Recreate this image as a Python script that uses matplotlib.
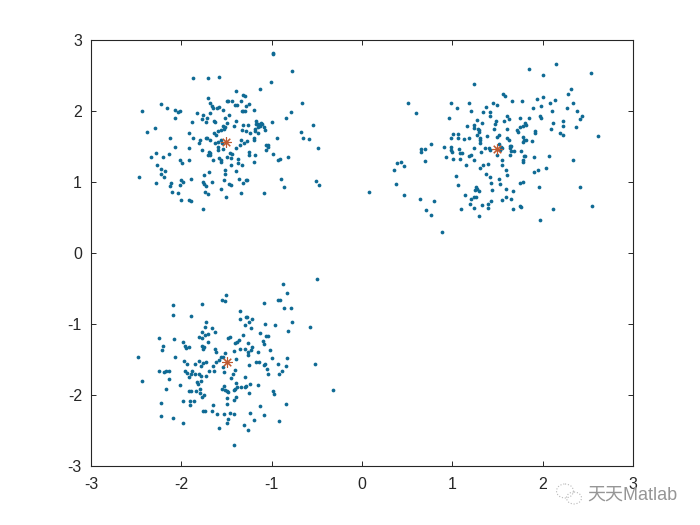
from matplotlib import pyplot as plt
from matplotlib.patches import Ellipse

plt.rcParams['font.family'] = ['Liberation Sans', 'Noto Sans CJK SC', 'DejaVu Sans']

x1 = [-0.99, -0.99, -0.77, -1.01, -1.13, -1.87, -1.70, -1.58, -1.40, -1.32, -1.30, -1.70, -1.50, -1.48, -1.44, -1.34,
      -1.68, -1.25, -1.41, -1.38, -1.66, -1.65, -1.60, -1.58, -1.54, -2.23, -2.44, -2.16, -2.07, -2.04, -2.02, -1.83,
      -1.76, -1.68, -1.72, -1.77, -1.73, -1.88, -2.07, -1.47, -1.52, -1.39, -1.49, -1.42, -1.64, -1.63, -1.33, -1.32,
      -1.29, -1.28, -1.20, -0.66, -0.79, -0.84, -1.00, -1.17, -1.17, -1.15, -1.12, -1.11, -1.13, -1.15, -1.08, -1.07,
      -1.18, -1.18, -1.15, -0.54, -0.68, -0.65, -0.59, -0.49, -0.94, -1.06, -1.04, -1.06, -1.04, -0.99, -0.91, -0.93,
      -0.82, -2.29, -2.38, -2.13, -1.92, -1.87, -1.79, -1.80, -1.73, -1.72, -1.68, -1.64, -1.62, -1.59, -1.56, -1.54,
      -1.52, -1.53, -1.32, -1.26, -1.33, -1.28, -1.24, -1.20, -1.20, -1.34, -1.31, -1.27, -1.35, -1.40, -1.63, -1.59,
      -1.56, -1.55, -1.59, -1.59, -1.54, -1.77, -1.92, -2.07, -2.28, -2.34, -2.20, -2.14, -1.92, -2.01, -1.99, -1.69,
      -1.70, -1.68, -1.68, -1.58, -1.56, -1.56, -1.50, -1.45, -1.46, -1.44, -1.65, -1.37, -1.37, -1.33, -1.45, -1.25,
      -1.25, -1.18, -1.20, -2.27, -2.22, -2.18, -2.22, -2.19, -2.47, -2.28, -2.11, -2.12, -2.00, -1.98, -2.02, -1.89,
      -1.75, -1.69, -1.52, -1.52, -1.53, -1.40, -1.36, -1.28, -1.27, -1.32, -1.76, -1.75, -1.73, -1.66, -1.47, -1.45,
      -1.56, -2.10, -2.04, -1.74, -1.70, -1.34, -1.09, -1.51, -2.00, -1.91, -1.89, -1.76, -0.90, -0.86, -0.51, -0.48]
y1 = [2.81, 2.79, 2.55, 2.40, 2.31, 2.46, 2.46, 2.47, 2.28, 2.22, 2.21, 2.17, 2.14, 2.13, 2.13, 2.13,
      2.11, 2.09, 2.08, 2.08, 2.06, 2.04, 2.04, 2.05, 2.01, 2.09, 2.00, 2.03, 2.01, 1.98, 1.99, 1.96,
      1.94, 1.97, 1.90, 1.88, 1.84, 1.84, 1.89, 1.94, 1.90, 1.85, 1.83, 1.79, 1.85, 1.84, 2.00, 2.00,
      1.99, 2.07, 2.01, 2.10, 1.98, 1.89, 1.84, 1.86, 1.81, 1.81, 1.82, 1.81, 1.78, 1.77, 1.77, 1.72,
      1.74, 1.71, 1.69, 1.80, 1.70, 1.62, 1.60, 1.47, 1.61, 1.51, 1.49, 1.44, 1.51, 1.39, 1.32, 1.30,
      1.35, 1.76, 1.70, 1.62, 1.68, 1.62, 1.59, 1.54, 1.62, 1.61, 1.59, 1.68, 1.65, 1.71, 1.72, 1.78,
      1.77, 1.74, 1.80, 1.80, 1.72, 1.71, 1.69, 1.62, 1.59, 1.58, 1.54, 1.57, 1.51, 1.47, 1.54, 1.56,
      1.59, 1.54, 1.49, 1.44, 1.46, 1.45, 1.47, 1.49, 1.40, 1.34, 1.35, 1.39, 1.31, 1.30, 1.26, 1.42,
      1.38, 1.40, 1.38, 1.33, 1.30, 1.27, 1.34, 1.33, 1.40, 1.39, 1.30, 1.32, 1.26, 1.23, 1.23, 1.42,
      1.38, 1.37, 1.28, 1.23, 1.18, 1.15, 1.11, 1.07, 1.06, 0.98, 0.98, 0.94, 1.03, 0.99, 0.96, 1.04,
      1.10, 1.14, 1.16, 1.11, 1.03, 1.15, 1.04, 1.03, 1.03, 0.98, 0.99, 0.97, 0.94, 1.00, 0.97, 0.96,
      0.90, 0.86, 0.84, 0.85, 0.83, 0.84, 0.84, 0.78, 0.74, 0.74, 0.73, 0.62, 1.04, 0.92, 1.01, 0.96]

x2 = [1.85, 2.15, 2.00, 2.54, 1.24, 1.56, 1.58, 2.31, 2.28, 2.00, 1.94, 2.14, 2.08, 1.66, 1.77, 2.34,
      0.51, 0.99, 1.19, 1.45, 1.49, 1.37, 1.05, 1.21, 1.34, 1.42, 1.42, 1.89, 1.98, 2.10, 2.27, 2.38,
      0.60, 0.96, 1.61, 1.63, 1.75, 1.85, 1.97, 1.98, 2.43, 2.41, 2.23, 2.11, 2.22, 2.37, 2.09, 2.19,
      2.22, 2.61, 1.27, 1.33, 1.16, 1.24, 1.24, 1.28, 1.30, 1.29, 1.48, 1.47, 1.57, 1.46, 1.61, 1.72,
      1.73, 1.75, 1.78, 1.80, 1.82, 1.92, 1.91, 1.01, 1.06, 0.99, 1.06, 1.13, 1.18, 1.27, 1.31, 1.31,
      1.31, 1.38, 1.49, 1.52, 1.61, 1.63, 1.78, 1.79, 1.78, 1.81, 1.88, 0.76, 0.70, 0.65, 0.65, 0.91,
      0.99, 0.99, 1.00, 1.07, 1.08, 1.11, 1.24, 1.32, 1.36, 1.41, 1.42, 1.52, 1.54, 1.55, 1.53, 1.64,
      1.65, 1.64, 1.65, 1.68, 1.76, 1.64, 1.49, 0.93, 1.01, 1.09, 1.18, 1.21, 1.24, 1.55, 1.79, 1.80,
      1.78, 1.78, 1.90, 2.07, 2.34, 0.70, 0.43, 0.39, 0.46, 0.35, 1.15, 1.31, 1.34, 1.40, 1.55, 1.59,
      1.61, 2.04, 1.95, 1.90, 1.37, 1.04, 1.42, 1.52, 0.38, 1.06, 1.43, 1.53, 1.75, 1.78, 1.96, 2.41,
      0.08, 1.26, 1.27, 1.25, 1.29, 1.44, 1.59, 1.67, 0.46, 1.14, 1.21, 1.24, 1.26, 1.59, 1.55, 1.65,
      1.43, 0.64, 0.80, 1.20, 1.33, 1.39, 1.40, 1.24, 1.10, 1.75, 1.76, 1.67, 2.11, 2.55, 0.71, 0.76,
      1.30, 1.97, 0.89]
y2 = [2.59, 2.65, 2.50, 2.53, 2.38, 2.23, 2.21, 2.30, 2.23, 2.19, 2.16, 2.15, 2.11, 2.13, 2.13, 2.11,
      2.10, 2.10, 2.11, 2.10, 2.08, 2.05, 2.03, 1.99, 1.98, 1.98, 1.93, 2.04, 2.06, 2.00, 2.03, 2.00,
      1.96, 1.90, 1.92, 1.88, 1.90, 1.89, 1.92, 1.89, 1.92, 1.88, 1.85, 1.82, 1.78, 1.77, 1.74, 1.69,
      1.65, 1.64, 1.87, 1.82, 1.79, 1.80, 1.75, 1.74, 1.72, 1.70, 1.85, 1.81, 1.85, 1.74, 1.74, 1.73,
      1.70, 1.77, 1.78, 1.82, 1.80, 1.71, 1.69, 1.67, 1.67, 1.62, 1.61, 1.60, 1.62, 1.65, 1.62, 1.58,
      1.55, 1.64, 1.63, 1.65, 1.61, 1.59, 1.63, 1.59, 1.56, 1.59, 1.57, 1.53, 1.46, 1.46, 1.42, 1.49,
      1.49, 1.45, 1.42, 1.46, 1.40, 1.40, 1.48, 1.42, 1.47, 1.47, 1.45, 1.53, 1.49, 1.48, 1.45, 1.50,
      1.50, 1.47, 1.43, 1.43, 1.43, 1.38, 1.38, 1.34, 1.32, 1.32, 1.36, 1.37, 1.31, 1.31, 1.36, 1.36,
      1.31, 1.28, 1.35, 1.36, 1.30, 1.29, 1.27, 1.26, 1.22, 1.16, 1.24, 1.19, 1.23, 1.25, 1.23, 1.16,
      1.10, 1.19, 1.16, 1.13, 1.11, 1.08, 1.06, 1.04, 0.97, 0.95, 0.98, 0.97, 0.98, 1.00, 0.92, 0.92,
      0.86, 0.92, 0.89, 0.88, 0.87, 0.88, 0.90, 0.87, 0.81, 0.81, 0.76, 0.78, 0.79, 0.78, 0.74, 0.75,
      0.73, 0.75, 0.73, 0.69, 0.67, 0.68, 0.63, 0.63, 0.62, 0.66, 0.64, 0.61, 0.62, 0.66, 0.60, 0.53,
      0.51, 0.46, 0.29]

x3 = [-0.50, -0.87, -0.83, -1.51, -1.55, -1.52, -0.93, -0.91, -1.08, -2.09, -1.77, -0.86, -0.79, -1.35, -2.09, -1.89,
      -1.28, -1.27, -1.35, -1.22, -1.25, -1.73, -0.78, -1.07, -0.96, -0.58, -1.30, -1.23, -1.74, -1.66, -0.82, -1.77,
      -1.70, -1.74, -1.63, -1.13, -1.06, -1.04, -1.80, -1.77, -1.32, -1.46, -1.48, -2.25, -2.08, -1.10, -1.09, -1.36,
      -1.38, -1.41, -1.26, -1.70, -1.98, -1.96, -1.95, -1.92, -2.20, -2.21, -1.77, -1.75, -1.76, -1.63, -1.62, -1.30,
      -1.22, -1.23, -1.26, -1.26, -1.35, -1.42, -1.15, -1.02, -1.52, -1.56, -1.54, -1.58, -2.07, -2.48, -1.39, -1.00,
      -0.83, -1.97, -1.85, -1.80, -1.73, -1.76, -1.78, -1.62, -1.65, -1.54, -1.17, -1.14, -1.25, -1.09, -1.07, -0.93,
      -0.84, -0.52, -1.05, -1.04, -0.89, -0.92, -1.94, -2.25, -2.19, -2.17, -2.14, -2.14, -1.96, -1.94, -1.88, -1.85,
      -1.80, -1.89, -1.92, -1.78, -1.73, -1.69, -1.64, -1.53, -1.41, -1.43, -1.45, -1.30, -1.83, -1.82, -1.78, -2.43,
      -2.02, -2.17, -1.79, -1.91, -1.89, -1.84, -1.79, -1.39, -1.38, -1.41, -1.42, -1.53, -1.55, -1.52, -1.49, -1.48,
      -1.34, -1.30, -1.28, -1.24, -1.15, -1.25, -0.99, -0.97, -0.32, -1.75, -1.77, -1.40, -1.42, -1.50, -1.98, -1.90,
      -1.86, -1.90, -2.23, -1.65, -1.49, -1.13, -0.84, -1.76, -1.74, -1.66, -1.60, -1.53, -1.46, -1.42, -1.24, -1.08,
      -2.23, -2.09, -1.48, -1.49, -1.20, -0.92, -1.98, -1.31, -1.58, -1.26, -1.42]
y3 = [-0.37, -0.44, -0.56, -0.59, -0.67, -0.68, -0.67, -0.66, -0.71, -0.74, -0.72, -0.78, -0.78, -0.82, -0.88, -0.89,
      -0.90, -0.91, -0.93, -0.93, -0.97, -0.97, -0.97, -1.00, -1.01, -1.04, -1.02, -1.06, -1.04, -1.06, -1.10, -1.11,
      -1.14, -1.16, -1.12, -1.13, -1.17, -1.17, -1.19, -1.20, -1.16, -1.18, -1.20, -1.20, -1.21, -1.24, -1.28, -1.23,
      -1.25, -1.27, -1.27, -1.26, -1.26, -1.31, -1.34, -1.32, -1.31, -1.37, -1.31, -1.32, -1.36, -1.36, -1.39, -1.36,
      -1.33, -1.37, -1.40, -1.44, -1.36, -1.38, -1.40, -1.37, -1.41, -1.46, -1.47, -1.51, -1.47, -1.46, -1.50, -1.48,
      -1.48, -1.52, -1.56, -1.52, -1.54, -1.55, -1.59, -1.53, -1.60, -1.61, -1.53, -1.54, -1.58, -1.58, -1.57, -1.56,
      -1.60, -1.56, -1.63, -1.70, -1.67, -1.70, -1.56, -1.67, -1.68, -1.66, -1.66, -1.77, -1.67, -1.69, -1.67, -1.70,
      -1.70, -1.71, -1.75, -1.73, -1.74, -1.67, -1.66, -1.68, -1.65, -1.71, -1.76, -1.75, -1.82, -1.85, -1.81, -1.81,
      -1.86, -1.92, -1.91, -1.94, -1.95, -1.95, -1.97, -1.83, -1.89, -1.91, -1.93, -1.88, -1.92, -1.93, -1.95, -1.96,
      -1.89, -1.89, -1.88, -1.85, -1.86, -1.98, -1.94, -1.99, -1.93, -2.00, -2.03, -2.03, -2.07, -2.05, -2.09, -2.09,
      -2.08, -2.14, -2.12, -2.14, -2.13, -2.15, -2.13, -2.23, -2.23, -2.23, -2.27, -2.27, -2.25, -2.27, -2.26, -2.28,
      -2.29, -2.32, -2.34, -2.39, -2.35, -2.36, -2.40, -2.42, -2.47, -2.50, -2.70]

center_x = [-1.51, 1.49, -1.50]
center_y = [1.56, 1.46, -1.54]
ticks = [-3, -2, -1, 0, 1, 2, 3]

fig = plt.figure(figsize=(7, 5.25), dpi=100)
ax = fig.add_axes([91 / 700, 1 - 466 / 525, 542 / 700, 426.5 / 525])

for xs, ys in [(x1, y1), (x2, y2), (x3, y3)]:
    ax.plot(xs, ys, 'o', color='#0f6a94', markersize=2.7, markeredgewidth=0)
# matlab style star
ax.plot(center_x, center_y, linestyle='none', marker=(8, 2, 0), color='#bf5a30', markersize=7.5, markeredgewidth=0.8)

ax.set_xlim(-3, 3)
ax.set_ylim(-3, 3)
ax.set_xticks(ticks)
ax.set_yticks(ticks)
ax.tick_params(direction='in', length=3.6, width=0.7, color='#262626', labelcolor='#262626', labelsize=11.5,
               top=True, right=True)
ax.tick_params(axis='x', pad=8)
ax.tick_params(axis='y', pad=6.5)
ax.set_xticklabels([str(t) for t in ticks])
ax.set_yticklabels([str(t) for t in ticks])
for s in ax.spines.values():
    s.set_linewidth(0.8)
    s.set_color('#262626')

# watermark, bottom right
bg = fig.add_axes([0, 0, 1, 1], facecolor='none')
bg.set_xlim(0, 700)
bg.set_ylim(525, 0)
bg.axis('off')
bg.add_patch(Ellipse((565, 491), 17, 14, fill=False, ec='#b8b8b8', lw=0.8, ls=':'))
bg.add_patch(Ellipse((574, 498), 15, 12, fill=False, ec='#b8b8b8', lw=0.8, ls=':'))
bg.text(587, 495, '天天Matlab', fontsize=13, color='#969696', va='center', ha='left')

fig.savefig('out.png', dpi=100)
